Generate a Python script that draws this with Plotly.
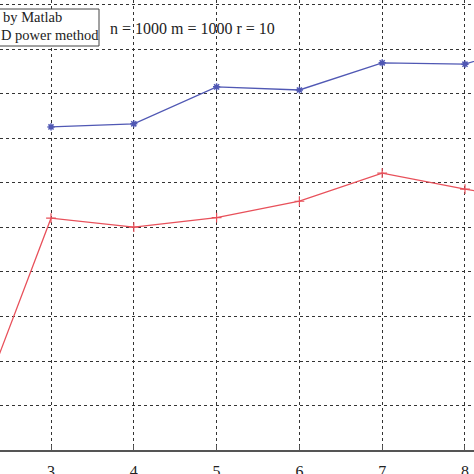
import plotly.graph_objects as go

# values read in gridline units (0 = x axis, each dotted line = 1)
blue_x = [3, 4, 5, 6, 7, 8, 9]
blue_y = [7.26, 7.33, 8.16, 8.09, 8.70, 8.67, 9.24]

red_x = [2, 3, 4, 5, 6, 7, 8, 9]
red_y = [0.31, 5.21, 5.01, 5.22, 5.59, 6.22, 5.86, 5.57]

x_ticks = [3, 4, 5, 6, 7, 8]
legend_lines = ["by Matlab", "D power method"]
note_text = "n = 1000 m = 1000 r = 10"

serif = "Liberation Serif"

fig = go.Figure()
fig.add_trace(go.Scatter(x=blue_x, y=blue_y, mode="lines+markers",
                         line=dict(color="#5058b4", width=1.3),
                         marker=dict(symbol="asterisk-open", size=6,
                                     line=dict(color="#3c44a0", width=1.5))))
fig.add_trace(go.Scatter(x=red_x, y=red_y, mode="lines+markers",
                         line=dict(color="#e8505a", width=1.3),
                         marker=dict(symbol="cross-thin-open", size=7,
                                     line=dict(color="#e8505a", width=1.2))))

# legend box, cut by the left edge like the picture
fig.add_shape(type="rect", xref="paper", yref="paper",
              x0=-0.02, x1=99 / 474, y0=1 - 46 / 450, y1=1 - 9 / 450,
              fillcolor="white", line=dict(color="#444", width=1), layer="above")
fig.add_annotation(text=legend_lines[0], xref="paper", yref="paper",
                   x=0.002, y=1 - 17 / 450, xanchor="left", yanchor="middle",
                   showarrow=False, font=dict(family=serif, size=14.5, color="#222"))
fig.add_annotation(text=legend_lines[1], xref="paper", yref="paper",
                   x=-0.002, y=1 - 35 / 450, xanchor="left", yanchor="middle",
                   showarrow=False, font=dict(family=serif, size=14.5, color="#222"))
fig.add_annotation(text=note_text, xref="paper", yref="paper",
                   x=192 / 474, y=1 - 29 / 450, xanchor="center", yanchor="middle",
                   showarrow=False, font=dict(family=serif, size=16, color="#222"))

fig.update_layout(
    width=474, height=474,
    margin=dict(l=0, r=0, t=0, b=24),
    paper_bgcolor="white", plot_bgcolor="white",
    showlegend=False,
    xaxis=dict(range=[2.384, 8.109], tickvals=x_ticks, ticks="inside", ticklen=5,
               tickcolor="#555", showline=True, linecolor="#555", linewidth=1.5,
               showgrid=True, gridcolor="#333", griddash="dot", gridwidth=1,
               zeroline=False, ticklabelstandoff=6, automargin=False,
               tickfont=dict(family=serif, size=16, color="#222")),
    yaxis=dict(range=[0, 10.112], dtick=1, tick0=0, showticklabels=False,
               showgrid=True, gridcolor="#333", griddash="dot", gridwidth=1,
               zeroline=False, showline=False, automargin=False),
)

# page body has an 8px default margin; drop it so the chart fills the window
fig.write_html("out.html", config={"displayModeBar": False},
               post_script="document.body.style.margin='0px';")
